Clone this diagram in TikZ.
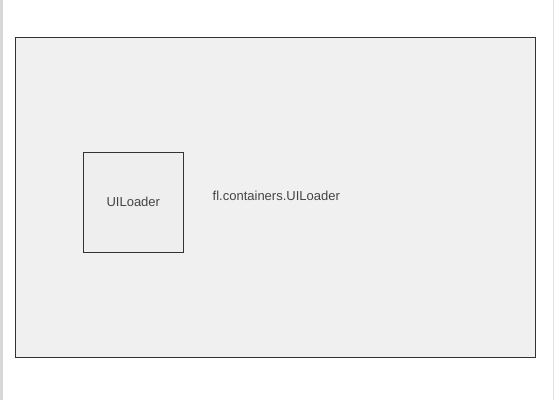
\documentclass[tikz,border=0pt]{standalone}
\usepackage{fontspec}
\setmainfont{Liberation Sans}
\definecolor{bgfill}{HTML}{F0F0F0}
\definecolor{boxfill}{HTML}{EEEEEE}
\definecolor{edge}{HTML}{333333}
\definecolor{txt}{HTML}{444444}
\definecolor{stripe}{HTML}{D8D8D8}
\tikzset{
  frame/.style={draw=edge, fill=bgfill, line width=1pt},
  compbox/.style={draw=edge, fill=boxfill, line width=1pt, minimum width=100pt, minimum height=100pt, inner sep=0pt, text=txt, font=\fontsize{13pt}{15pt}\selectfont},
  lbl/.style={text=txt, font=\fontsize{13pt}{15pt}\selectfont, anchor=west, inner sep=0pt}
}
\begin{document}
\begin{tikzpicture}[x=1pt,y=-1pt]
\useasboundingbox (0,0) rectangle (554,400);
\fill[white] (0,0) rectangle (554,400);
\fill[stripe] (0,0) rectangle (3,400);
\fill[stripe!80!white] (552.5,0) rectangle (554,400);
\node[frame, minimum width=520pt, minimum height=319.5pt, inner sep=0pt, anchor=north west] (outer) at (15,37) {};
\node[compbox] (uiloader) at (133.3,202.3) {UILoader};
\node[lbl] (cls) at (212.5,195.5) {fl.containers.UILoader};
\path (uiloader.center) ++(0,-0.8) coordinate (dummy);
\end{tikzpicture}
\end{document}
